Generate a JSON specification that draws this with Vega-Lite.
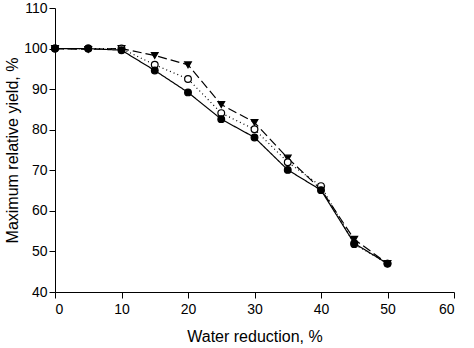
{
  "$schema": "https://vega.github.io/schema/vega-lite/v6.json",
  "autosize": {"type": "none"},
  "width": 399,
  "height": 284,
  "padding": {"left": 55, "top": 8, "right": 20, "bottom": 56},
  "config": {
    "view": {"stroke": null},
    "font": "Liberation Sans",
    "axis": {"grid": false, "domainColor": "black", "tickColor": "black", "labelColor": "black", "titleColor": "black", "labelFontSize": 14, "titleFontSize": 16, "titleFontWeight": "normal", "tickSize": 6, "labelFont": "Liberation Sans", "titleFont": "Liberation Sans"}
  },
  "data": {"values": [
    {"x": 0, "y": 100, "s": "A"}, {"x": 5, "y": 100, "s": "A"}, {"x": 10, "y": 99.6, "s": "A"}, {"x": 15, "y": 94.6, "s": "A"}, {"x": 20, "y": 89.2, "s": "A"}, {"x": 25, "y": 82.6, "s": "A"}, {"x": 30, "y": 78.1, "s": "A"}, {"x": 35, "y": 70.1, "s": "A"}, {"x": 40, "y": 65.1, "s": "A"}, {"x": 45, "y": 52, "s": "A"}, {"x": 50, "y": 47, "s": "A"},
    {"x": 0, "y": 100, "s": "B"}, {"x": 5, "y": 100, "s": "B"}, {"x": 10, "y": 100, "s": "B"}, {"x": 15, "y": 96, "s": "B"}, {"x": 20, "y": 92.5, "s": "B"}, {"x": 25, "y": 84.1, "s": "B"}, {"x": 30, "y": 80.1, "s": "B"}, {"x": 35, "y": 72, "s": "B"}, {"x": 40, "y": 66.1, "s": "B"}, {"x": 45, "y": 51.8, "s": "B"}, {"x": 50, "y": 47, "s": "B"},
    {"x": 0, "y": 100, "s": "C"}, {"x": 5, "y": 99.8, "s": "C"}, {"x": 10, "y": 100, "s": "C"}, {"x": 15, "y": 98.3, "s": "C"}, {"x": 20, "y": 96, "s": "C"}, {"x": 25, "y": 86.2, "s": "C"}, {"x": 30, "y": 81.8, "s": "C"}, {"x": 35, "y": 73, "s": "C"}, {"x": 40, "y": 65.3, "s": "C"}, {"x": 45, "y": 53, "s": "C"}, {"x": 50, "y": 47, "s": "C"}
  ]},
  "encoding": {
    "x": {"field": "x", "type": "quantitative", "scale": {"domain": [0, 60], "nice": false}, "axis": {"values": [0, 10, 20, 30, 40, 50, 60], "title": "Water reduction, %", "titlePadding": 12, "labelPadding": 4}},
    "y": {"field": "y", "type": "quantitative", "scale": {"domain": [40, 110], "nice": false, "zero": false}, "axis": {"values": [40, 50, 60, 70, 80, 90, 100, 110], "title": "Maximum relative yield, %", "titlePadding": 3, "labelPadding": 2}}
  },
  "layer": [
    {
      "mark": {"type": "line", "color": "black", "strokeWidth": 1.2},
      "encoding": {
        "detail": {"field": "s"},
        "strokeDash": {"field": "s", "type": "nominal", "scale": {"domain": ["A", "B", "C"], "range": [[1, 0], [1, 3], [9, 4]]}, "legend": null}
      }
    },
    {
      "mark": {"type": "point", "filled": true, "stroke": "black", "strokeWidth": 1.2, "size": 45, "opacity": 1},
      "encoding": {
        "shape": {"field": "s", "type": "nominal", "scale": {"domain": ["A", "B", "C"], "range": ["circle", "circle", "triangle-down"]}, "legend": null},
        "fill": {"field": "s", "type": "nominal", "scale": {"domain": ["A", "B", "C"], "range": ["black", "white", "black"]}, "legend": null},
        "order": {"field": "s", "sort": "descending"}
      }
    }
  ]
}
